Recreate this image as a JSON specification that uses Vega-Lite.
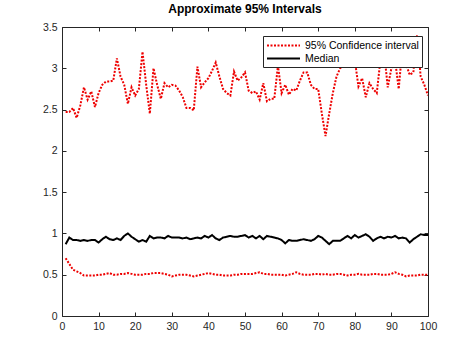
{
  "$schema": "https://vega.github.io/schema/vega-lite/v6.json",
  "width": 366,
  "height": 289,
  "autosize": {"type": "none"},
  "padding": {"left": 62, "top": 27, "right": 46, "bottom": 39},
  "background": "white",
  "title": {"text": "Approximate 95% Intervals", "fontSize": 12, "fontWeight": "bold", "font": "Liberation Sans", "color": "#000000", "anchor": "middle", "offset": 6},
  "config": {
    "view": {"stroke": null},
    "axis": {"grid": false, "labelFont": "Liberation Sans", "labelFontSize": 10.5, "labelColor": "#262626", "domainColor": "#262626", "tickColor": "#262626", "tickSize": -4, "title": null, "labelPadding": 9, "labelFlush": false},
    "legend": {"orient": "none", "legendX": 201, "legendY": 9, "fillColor": "white", "strokeColor": "#262626", "padding": 3, "labelFont": "Liberation Sans", "labelFontSize": 10.5, "labelColor": "#000000", "symbolStrokeWidth": 2, "rowPadding": 1, "title": null}
  },
  "data": {"values": [
    {"x":1,"upper":2.47,"median":0.87,"lower":0.70},
    {"x":2,"upper":2.47,"median":0.95,"lower":0.63},
    {"x":3,"upper":2.52,"median":0.92,"lower":0.56},
    {"x":4,"upper":2.40,"median":0.92,"lower":0.54},
    {"x":5,"upper":2.55,"median":0.91,"lower":0.52},
    {"x":6,"upper":2.77,"median":0.92,"lower":0.49},
    {"x":7,"upper":2.62,"median":0.91,"lower":0.49},
    {"x":8,"upper":2.72,"median":0.92,"lower":0.49},
    {"x":9,"upper":2.53,"median":0.92,"lower":0.49},
    {"x":10,"upper":2.70,"median":0.89,"lower":0.50},
    {"x":11,"upper":2.80,"median":0.93,"lower":0.50},
    {"x":12,"upper":2.84,"median":0.96,"lower":0.51},
    {"x":13,"upper":2.84,"median":0.93,"lower":0.52},
    {"x":14,"upper":2.85,"median":0.92,"lower":0.50},
    {"x":15,"upper":3.12,"median":0.94,"lower":0.50},
    {"x":16,"upper":2.90,"median":0.92,"lower":0.51},
    {"x":17,"upper":2.80,"median":0.97,"lower":0.51},
    {"x":18,"upper":2.57,"median":1.00,"lower":0.52},
    {"x":19,"upper":2.77,"median":0.96,"lower":0.51},
    {"x":20,"upper":2.67,"median":0.93,"lower":0.50},
    {"x":21,"upper":2.75,"median":0.90,"lower":0.50},
    {"x":22,"upper":3.20,"median":0.92,"lower":0.50},
    {"x":23,"upper":2.80,"median":0.90,"lower":0.51},
    {"x":24,"upper":2.45,"median":0.97,"lower":0.51},
    {"x":25,"upper":3.00,"median":0.94,"lower":0.52},
    {"x":26,"upper":2.80,"median":0.95,"lower":0.52},
    {"x":27,"upper":2.63,"median":0.95,"lower":0.52},
    {"x":28,"upper":2.82,"median":0.94,"lower":0.51},
    {"x":29,"upper":2.77,"median":0.97,"lower":0.50},
    {"x":30,"upper":2.80,"median":0.95,"lower":0.48},
    {"x":31,"upper":2.79,"median":0.95,"lower":0.49},
    {"x":32,"upper":2.73,"median":0.95,"lower":0.50},
    {"x":33,"upper":2.65,"median":0.94,"lower":0.50},
    {"x":34,"upper":2.52,"median":0.95,"lower":0.50},
    {"x":35,"upper":2.52,"median":0.93,"lower":0.49},
    {"x":36,"upper":2.49,"median":0.94,"lower":0.48},
    {"x":37,"upper":3.02,"median":0.95,"lower":0.49},
    {"x":38,"upper":2.77,"median":0.94,"lower":0.50},
    {"x":39,"upper":2.83,"median":0.97,"lower":0.51},
    {"x":40,"upper":2.88,"median":0.95,"lower":0.52},
    {"x":41,"upper":2.97,"median":0.98,"lower":0.51},
    {"x":42,"upper":3.07,"median":0.94,"lower":0.50},
    {"x":43,"upper":2.90,"median":0.92,"lower":0.50},
    {"x":44,"upper":2.75,"median":0.95,"lower":0.49},
    {"x":45,"upper":2.70,"median":0.96,"lower":0.49},
    {"x":46,"upper":2.67,"median":0.97,"lower":0.49},
    {"x":47,"upper":2.96,"median":0.96,"lower":0.50},
    {"x":48,"upper":2.85,"median":0.96,"lower":0.50},
    {"x":49,"upper":2.89,"median":0.97,"lower":0.51},
    {"x":50,"upper":2.95,"median":0.98,"lower":0.51},
    {"x":51,"upper":2.73,"median":0.95,"lower":0.51},
    {"x":52,"upper":2.70,"median":0.97,"lower":0.51},
    {"x":53,"upper":2.72,"median":0.94,"lower":0.52},
    {"x":54,"upper":2.62,"median":0.97,"lower":0.53},
    {"x":55,"upper":2.82,"median":0.93,"lower":0.51},
    {"x":56,"upper":2.60,"median":0.97,"lower":0.51},
    {"x":57,"upper":2.63,"median":0.96,"lower":0.50},
    {"x":58,"upper":2.63,"median":0.95,"lower":0.50},
    {"x":59,"upper":3.03,"median":0.94,"lower":0.50},
    {"x":60,"upper":2.70,"median":0.92,"lower":0.50},
    {"x":61,"upper":2.80,"median":0.88,"lower":0.49},
    {"x":62,"upper":2.68,"median":0.92,"lower":0.50},
    {"x":63,"upper":2.75,"median":0.91,"lower":0.51},
    {"x":64,"upper":2.73,"median":0.91,"lower":0.53},
    {"x":65,"upper":2.85,"median":0.92,"lower":0.51},
    {"x":66,"upper":2.95,"median":0.93,"lower":0.50},
    {"x":67,"upper":2.95,"median":0.92,"lower":0.50},
    {"x":68,"upper":2.80,"median":0.91,"lower":0.50},
    {"x":69,"upper":2.75,"median":0.93,"lower":0.51},
    {"x":70,"upper":2.75,"median":0.97,"lower":0.51},
    {"x":71,"upper":2.45,"median":0.95,"lower":0.50},
    {"x":72,"upper":2.18,"median":0.91,"lower":0.51},
    {"x":73,"upper":2.45,"median":0.87,"lower":0.50},
    {"x":74,"upper":2.70,"median":0.91,"lower":0.50},
    {"x":75,"upper":2.90,"median":0.91,"lower":0.51},
    {"x":76,"upper":3.00,"median":0.91,"lower":0.51},
    {"x":77,"upper":3.05,"median":0.94,"lower":0.50},
    {"x":78,"upper":3.30,"median":0.97,"lower":0.49},
    {"x":79,"upper":3.10,"median":0.94,"lower":0.50},
    {"x":80,"upper":3.10,"median":0.98,"lower":0.50},
    {"x":81,"upper":2.78,"median":0.95,"lower":0.51},
    {"x":82,"upper":2.88,"median":0.97,"lower":0.50},
    {"x":83,"upper":2.65,"median":0.99,"lower":0.50},
    {"x":84,"upper":2.82,"median":0.96,"lower":0.50},
    {"x":85,"upper":2.75,"median":0.91,"lower":0.51},
    {"x":86,"upper":2.70,"median":0.94,"lower":0.51},
    {"x":87,"upper":3.10,"median":0.96,"lower":0.50},
    {"x":88,"upper":3.20,"median":0.94,"lower":0.50},
    {"x":89,"upper":2.77,"median":0.96,"lower":0.50},
    {"x":90,"upper":3.00,"median":0.95,"lower":0.51},
    {"x":91,"upper":3.10,"median":0.97,"lower":0.53},
    {"x":92,"upper":2.75,"median":0.94,"lower":0.51},
    {"x":93,"upper":3.25,"median":0.95,"lower":0.50},
    {"x":94,"upper":3.05,"median":0.94,"lower":0.48},
    {"x":95,"upper":2.92,"median":0.89,"lower":0.49},
    {"x":96,"upper":2.95,"median":0.93,"lower":0.49},
    {"x":97,"upper":3.40,"median":0.96,"lower":0.49},
    {"x":98,"upper":2.90,"median":0.99,"lower":0.50},
    {"x":99,"upper":2.80,"median":0.98,"lower":0.50},
    {"x":100,"upper":2.67,"median":0.98,"lower":0.50}
  ]},
  "resolve": {"axis": {"x": "independent", "y": "independent"}},
  "layer": [
    {
      "mark": {"type": "line", "strokeWidth": 2, "clip": true},
      "encoding": {
        "x": {"field": "x", "type": "quantitative", "scale": {"domain": [0, 100], "nice": false}, "axis": {"orient": "bottom", "values": [0,10,20,30,40,50,60,70,80,90,100], "format": "d"}},
        "y": {"field": "upper", "type": "quantitative", "scale": {"domain": [0, 3.5], "nice": false, "zero": false}, "axis": {"orient": "left", "values": [0,0.5,1,1.5,2,2.5,3,3.5], "format": "~r"}},
        "color": {"datum": "95% Confidence interval", "scale": {"domain": ["95% Confidence interval", "Median"], "range": ["#ee0000", "#000000"]}, "legend": {"title": null, "symbolType": "M-1,0H5", "symbolSize": 121, "labelOffset": 26}},
        "strokeDash": {"datum": "95% Confidence interval", "scale": {"domain": ["95% Confidence interval", "Median"], "range": [[2, 1.5], [1, 0]]}, "legend": {"title": null, "symbolType": "M-1,0H5", "symbolSize": 121, "labelOffset": 26}}
      }
    },
    {
      "mark": {"type": "line", "strokeWidth": 2, "clip": true},
      "encoding": {
        "x": {"field": "x", "type": "quantitative", "axis": {"orient": "top", "values": [0,10,20,30,40,50,60,70,80,90,100], "labels": false}},
        "y": {"field": "median", "type": "quantitative", "axis": {"orient": "right", "values": [0,0.5,1,1.5,2,2.5,3,3.5], "labels": false}},
        "color": {"datum": "Median"},
        "strokeDash": {"datum": "Median"}
      }
    },
    {
      "mark": {"type": "line", "strokeWidth": 2, "clip": true},
      "encoding": {
        "x": {"field": "x", "type": "quantitative", "axis": null},
        "y": {"field": "lower", "type": "quantitative", "axis": null},
        "color": {"datum": "95% Confidence interval"},
        "strokeDash": {"datum": "95% Confidence interval"}
      }
    }
  ]
}
